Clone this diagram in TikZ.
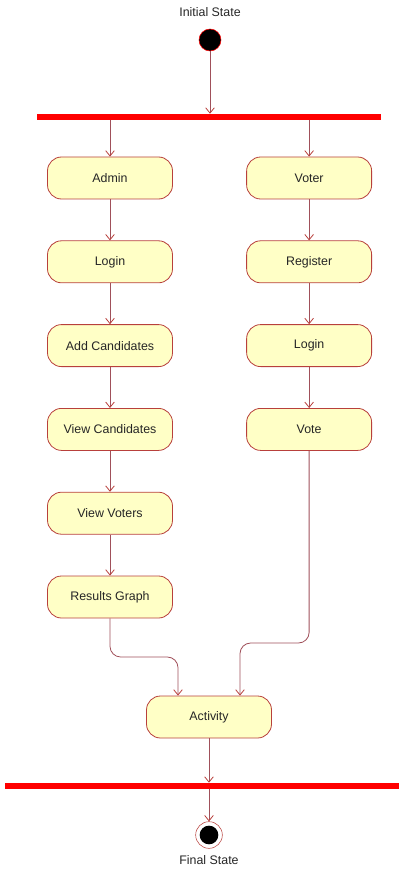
\documentclass[tikz,border=0pt]{standalone}
\usepackage{fontspec}
\setmainfont{Liberation Sans}
\usetikzlibrary{arrows.meta,positioning}
\definecolor{umlfill}{HTML}{FFFFC6}
\definecolor{umlline}{HTML}{B8403C}
\definecolor{umlflow}{HTML}{A0505A}
\definecolor{umlbar}{HTML}{FF0000}
\tikzset{
    %Define standard arrow tip
    >={Straight Barb[length=4pt,width=6.5pt,color=umlline]},
    %Define style for activity boxes
    activity/.style={
           rectangle,
           rounded corners=10.5pt,
           draw=umlline, line width=0.6pt,
           fill=umlfill,
           minimum width=93.75pt,
           minimum height=31.5pt,
           font=\fontsize{9.3}{11}\selectfont,
           text=black!85,
           text centered},
    start/.style={
           circle,
           draw=umlbar, thin,
           fill=black,
           minimum size=16.5pt,
           inner sep=0pt},
    stop/.style={
           circle,
           draw=umlline, thin,
           fill=white,
           minimum size=20pt,
           inner sep=0pt},
    stopdot/.style={
           circle,
           fill=black,
           minimum size=14pt,
           inner sep=0pt},
    bar/.style={
           rectangle,
           fill=umlbar,
           inner sep=0pt,
           minimum height=4.5pt},
    statetext/.style={
           font=\fontsize{9.3}{11}\selectfont,
           text=black!85,
           inner sep=1pt},
    % Define arrow style
    flow/.style={
           draw=umlflow, line width=0.6pt, ->}
}
\begin{document}
\begin{tikzpicture}[x=0.75pt,y=-0.75pt,node distance=30.75pt and 55pt]
\useasboundingbox (0,0) rectangle (400,877);
\node[statetext](initlabel) at (210,12){Initial State};
\node[start](init) at (210,40){};
\node[bar, minimum width=258pt](fork) at (209,117){};
% admin column
\node[activity](admin) at (110,178){Admin};
\node[activity, below=of admin](alogin){Login};
\node[activity, below=of alogin](addcand){Add Candidates};
\node[activity, below=of addcand](viewcand){View Candidates};
\node[activity, below=of viewcand](viewvot){View Voters};
\node[activity, below=of viewvot](results){Results Graph};
% voter column
\node[activity, right=of admin](voter){Voter};
\node[activity, below=of voter](register){Register};
\node[activity, below=of register](vlogin){Login};
\node[activity, below=of vlogin](vote){Vote};
\node[activity](act) at (209,717){Activity};
\node[bar, minimum width=296pt](join) at (202,786){};
\node[stop](final) at (209,835){};
\node[stopdot](finaldot) at (final){};
\node[statetext](finallabel) at (209,860){Final State};
\coordinate (bendl) at (178,657);
\coordinate (bendr) at (240,643);
 \path[every edge/.style={flow}]
    (init) edge (init |- fork.north)
    (fork.south -| admin) edge (admin)
    (fork.south -| voter) edge (voter)
    (admin) edge (alogin)
    (alogin) edge (addcand)
    (addcand) edge (viewcand)
    (viewcand) edge (viewvot)
    (viewvot) edge (results)
    (voter) edge (register)
    (register) edge (vlogin)
    (vlogin) edge (vote)
    (act) edge (act |- join.north)
    (join.south -| final) edge (final);
\draw[flow, rounded corners=8pt] (results) |- (bendl) -- (bendl |- act.north);
\draw[flow, rounded corners=8pt] (vote) |- (bendr) -- (bendr |- act.north);
\end{tikzpicture}
\end{document}
